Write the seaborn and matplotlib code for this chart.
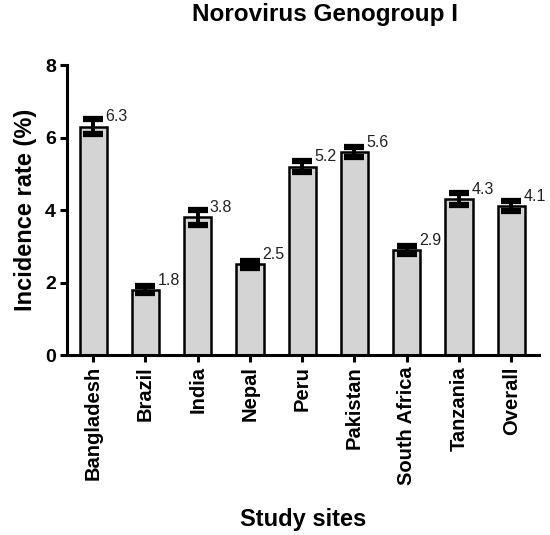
import numpy as np
import pandas as pd
import seaborn as sns
import matplotlib
matplotlib.use("Agg")
import matplotlib.pyplot as plt

# data
sites = ["Bangladesh", "Brazil", "India", "Nepal", "Peru", "Pakistan",
         "South Africa", "Tanzania", "Overall"]
incidence = [6.3, 1.8, 3.8, 2.5, 5.2, 5.6, 2.9, 4.3, 4.1]
errors = [0.2, 0.1, 0.2, 0.1, 0.14, 0.14, 0.1, 0.17, 0.14]
value_labels = ["6.3", "1.8", "3.8", "2.5", "5.2", "5.6", "2.9", "4.3", "4.1"]
yticks = [0, 2, 4, 6, 8]

sns.set_theme(style="white")
plt.rcParams["font.family"] = ["Liberation Sans", "DejaVu Sans"]
plt.rcParams["text.color"] = "black"
plt.rcParams["axes.labelcolor"] = "black"

df = pd.DataFrame({"site": sites, "rate": incidence})

fig = plt.figure(figsize=(5.5, 5.35), dpi=100)
ax = fig.add_axes([0.1218, 0.3364, 0.8582, 0.5421])

sns.barplot(data=df, x="site", y="rate", color="#d4d4d4", width=0.52,
            edgecolor="black", linewidth=1.8, saturation=1, errorbar=None, ax=ax)

xpos = np.arange(len(sites))
ax.errorbar(xpos, incidence, yerr=errors, fmt="none", ecolor="black",
            elinewidth=2.8, capsize=7, capthick=4.5, zorder=5)

for i, (v, lab) in enumerate(zip(incidence, value_labels)):
    ax.annotate(lab, xy=(i + 0.26, v), xytext=(-1, 7), textcoords="offset points",
                ha="left", va="center", fontsize=11.5, color="#222222")

ax.set_xlim(-0.5, 8.53)
ax.set_ylim(0, 8)
ax.set_yticks(yticks)
ax.set_yticklabels([str(t) for t in yticks], fontsize=14, fontweight="bold")
ax.set_xticks(xpos)
ax.set_xticklabels(sites, rotation=90, fontsize=14.5, fontweight="bold")

for side in ["top", "right"]:
    ax.spines[side].set_visible(False)
for side in ["left", "bottom"]:
    ax.spines[side].set_linewidth(2.2)
    ax.spines[side].set_color("black")
ax.tick_params(axis="both", which="major", direction="out", length=5, width=2.2,
               color="black", labelcolor="black", pad=3,
               left=True, bottom=True)

ax.set_ylabel("Incidence rate (%)", fontsize=17, fontweight="bold", labelpad=6)
ax.set_xlabel("Study sites", fontsize=17, fontweight="bold", labelpad=17)
ax.set_title("Norovirus Genogroup I", fontsize=17.5, fontweight="bold", pad=32, x=0.547)

fig.savefig("out.png", dpi=100, facecolor="white")
